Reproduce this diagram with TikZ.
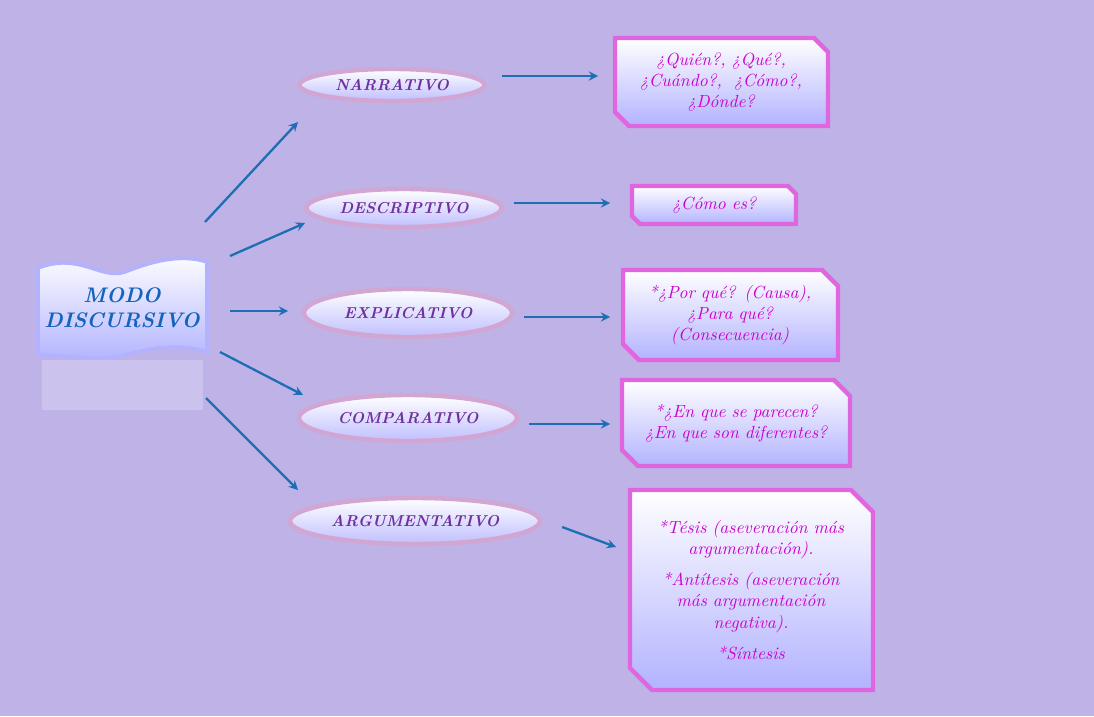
\documentclass[tikz,border=0pt]{standalone}
\usepackage{tikz}
\usetikzlibrary{backgrounds, positioning, shapes.geometric}
\definecolor{bgpurple}{RGB}{190,178,230}
\definecolor{deeppurple}{RGB}{112,48,160}
\definecolor{qmagenta}{RGB}{204,0,204}
\definecolor{arrowblue}{RGB}{30,110,180}
\definecolor{titleblue}{RGB}{20,100,190}
\tikzset{
  modo/.style={ellipse, minimum height=#1, inner sep=0pt,
    draw=violet!35, line width=2.5pt, top color=white, bottom color=blue!25,
    font=\small\bfseries\itshape, text=deeppurple},
  caja/.style={text width=#1, align=center, font=\itshape, text=qmagenta},
  flecha/.style={->, >=stealth, line width=1.3pt, arrowblue},
}
\begin{document}
\begin{tikzpicture}[x=0.02cm, y=-0.02cm]
  % banner on the left
  \draw[draw=blue!30, line width=2pt, top color=white, bottom color=blue!30]
    (38,268) .. controls (80,252) and (100,280) .. (125,272)
             .. controls (160,258) and (185,255) .. (207,262)
    -- (207,352) .. controls (185,345) and (160,345) .. (125,355)
             .. controls (100,362) and (70,355) .. (38,355) -- cycle;
  \fill[blue!10, opacity=0.35] (42,360) rectangle (203,410);
  \node[font=\bfseries\itshape\large, text=titleblue, align=center] (md) at (122,308) {MODO\\DISCURSIVO};
  % ellipses
  \node[modo=0.64cm, minimum width=3.7cm] (nar) at (392,85) {NARRATIVO};
  \node[modo=0.76cm, minimum width=3.9cm] (des) at (404,208) {DESCRIPTIVO};
  \node[modo=0.96cm, minimum width=4.16cm] (exp) at (408,313) {EXPLICATIVO};
  \node[modo=0.92cm, minimum width=4.36cm] (com) at (408,418) {COMPARATIVO};
  \node[modo=0.92cm, minimum width=5.0cm] (arg) at (415,521) {ARGUMENTATIVO};
  % boxes
  \node[caja=3.9cm] (b1) at (721,82) {¿Quién?, ¿Qué?,\\ ¿Cuándo?,\ \ ¿Cómo?,\\ ¿Dónde?};
  \node[caja=3.0cm] (b2) at (714,205) {¿Cómo es?};
  \node[caja=4.0cm] (b3) at (730,315) {*¿Por qué? (Causa),\\ *¿Para qué?\\ (Consecuencia)};
  \node[caja=4.3cm] (b4) at (736,423) {*¿En que se parecen?\\ *¿En que son diferentes?};
  \node[caja=4.2cm] (b5) at (751,590) {*Tésis (aseveración más\\ argumentación).\\[6pt]
    *Antítesis (aseveración\\ más argumentación\\ negativa).\\[6pt] *Síntesis};
  \begin{scope}[on background layer]
    \fill[bgpurple] (0,0) rectangle (1094,716);
    \foreach \xa/\ya/\xb/\yb/\c in {615/38/828/126/14, 632/186/796/224/8,
        623/270/838/360/16, 622/380/850/466/16, 630/490/873/690/22} {
      \draw[draw=qmagenta!60, line width=2.5pt, top color=white, bottom color=blue!30]
        (\xa,\ya) -- (\xb-\c,\ya) -- (\xb,\ya+\c) -- (\xb,\yb)
        -- (\xa+\c,\yb) -- (\xa,\yb-\c) -- cycle;
    }
  \end{scope}
  % arrows
  \coordinate (t1) at (205,222); \coordinate (t2) at (230,256);
  \coordinate (t3) at (230,311); \coordinate (t4) at (220,352);
  \coordinate (t5) at (206,398);
  \draw[flecha] (t1) -- (298,122);
  \draw[flecha] (t2) -- (305,223);
  \draw[flecha] (t3) -- (288,311);
  \draw[flecha] (t4) -- (303,395);
  \draw[flecha] (t5) -- (298,490);
  \draw[flecha] ([xshift=0.3cm]nar.east |- 0,76) -- (598,76);
  \draw[flecha] ([xshift=0.2cm]des.east |- 0,203) -- (610,203);
  \draw[flecha] ([xshift=0.2cm]exp.east |- 0,317) -- (610,317);
  \draw[flecha] ([xshift=0.2cm]com.east |- 0,424) -- (610,424);
  \draw[flecha] ([xshift=0.4cm]arg.east |- 0,527) -- (616,547);
\end{tikzpicture}
\end{document}
